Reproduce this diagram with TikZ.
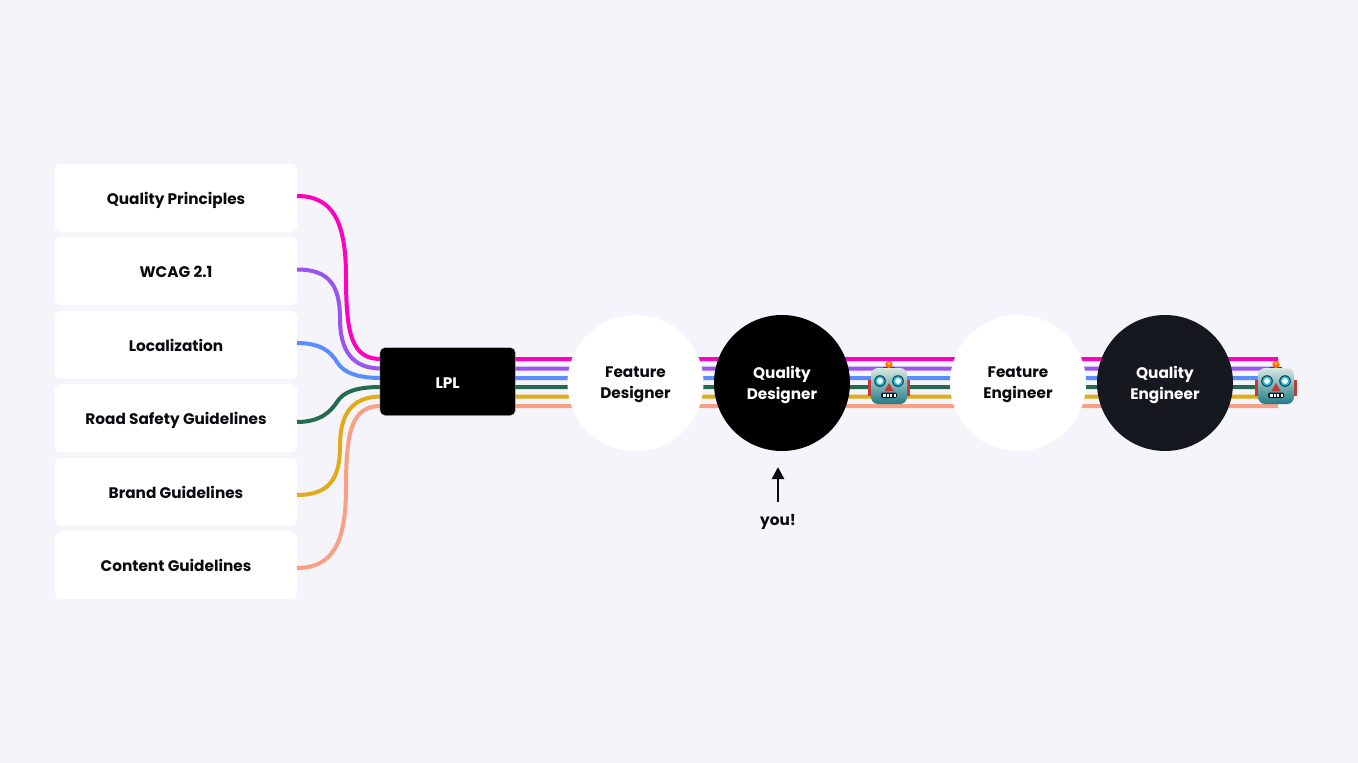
\documentclass[tikz,border=0pt]{standalone}
\usepackage{fontspec}
\setmainfont{Poppins}
\definecolor{bgc}{HTML}{F4F4FA}
\definecolor{cMag}{HTML}{FF00BF}
\definecolor{cPur}{HTML}{9B55EE}
\definecolor{cBlu}{HTML}{5A8CFF}
\definecolor{cGrn}{HTML}{256B50}
\definecolor{cYel}{HTML}{E0AC1A}
\definecolor{cSal}{HTML}{F8A084}
\definecolor{cInk}{HTML}{16181F}
\definecolor{txt}{HTML}{0B0B0F}
\definecolor{rTop}{HTML}{D8E8E2}
\definecolor{rBot}{HTML}{1F7C88}
\definecolor{rRed}{HTML}{C23A33}
\definecolor{rCyan}{HTML}{1CC4E8}
\usetikzlibrary{arrows.meta}
\tikzset{
  x=1pt,y=-1pt,
  srcbox/.style={fill=white,rounded corners=6pt,minimum width=242pt,minimum height=68pt,inner sep=0pt},
  person/.style={circle,minimum size=136pt,inner sep=0pt},
  plabel/.style={yshift=-2pt,inner sep=0pt,align=center,font=\fontsize{15.3}{21}\selectfont\bfseries},
  slabel/.style={inner sep=0pt,yshift=-2.75pt,text height=11pt,text depth=3.5pt,font=\fontsize{15.3}{21}\selectfont\bfseries,text=txt},
  wire/.style={line width=4pt},
  pics/robot/.style={code={
    \fill[rRed] (-21,-5) rectangle (-17,11);
    \fill[rRed] (17,-5) rectangle (21,11);
    \fill[cInk!85] (-6,-18) rectangle (6,-15);
    \fill[orange!85!red] (0,-20.5) circle (3.6);
    \fill[yellow!70!orange] (0,-21.5) circle (1.6);
    \shade[top color=rTop,bottom color=rBot,rounded corners=7pt] (-18,-17) rectangle (18,19);
    \foreach \s in {-1,1}{
      \fill[cInk!70!rBot] (\s*9,-4) circle (5.8);
      \fill[rCyan] (\s*9,-4) circle (4.8);
      \fill[white] (\s*9,-4) circle (2.9);
    }
    \fill[rRed] (0,-2)--(-4.5,6)--(4.5,6)--cycle;
    \fill[cInk,rounded corners=2pt] (-8,7.5) rectangle (8,13);
    \foreach \t in {-5.6,-2.2,1.2,4.6}{\fill[white] (\t,8.6) rectangle ++(2.2,3.2);}
  }}
}
\begin{document}
\begin{tikzpicture}
\useasboundingbox (0,0) rectangle (1358,763);
\fill[bgc] (0,0) rectangle (1358,763);
% sources
\node[srcbox,label={[slabel]center:Quality Principles}] (b1) at (176,198) {};
\node[srcbox,label={[slabel]center:WCAG 2.1}] (b2) at (176,271) {};
\node[srcbox,label={[slabel]center:Localization}] (b3) at (176,345) {};
\node[srcbox,label={[slabel]center:Road Safety Guidelines}] (b4) at (176,418) {};
\node[srcbox,label={[slabel]center:Brand Guidelines}] (b5) at (176,491.5) {};
\node[srcbox,label={[slabel]center:Content Guidelines}] (b6) at (176,565) {};
% anchors
\coordinate (s1) at (297,196); \coordinate (s2) at (297,269.5); \coordinate (s3) at (297,343);
\coordinate (s4) at (297,422); \coordinate (s5) at (297,495); \coordinate (s6) at (297,568);
\coordinate (m1) at (346,277); \coordinate (m2) at (340,319); \coordinate (m3) at (337,362);
\coordinate (m4) at (337,402); \coordinate (m5) at (340,446); \coordinate (m6) at (346,488);
\coordinate (i1) at (381,359); \coordinate (i2) at (381,368.5); \coordinate (i3) at (381,378);
\coordinate (i4) at (381,387); \coordinate (i5) at (381,396.5); \coordinate (i6) at (381,406);
\coordinate (e1) at (1278,359); \coordinate (e2) at (1278,368.5); \coordinate (e3) at (1278,378);
\coordinate (e4) at (1278,387); \coordinate (e5) at (1278,396.5); \coordinate (e6) at (1278,406);
% wires
\draw[wire,cMag] (s1) .. controls ++(36,0) and (346,222) .. (m1) .. controls (346,335) and (352,359) .. (i1) -- (e1);
\draw[wire,cPur] (s2) .. controls ++(32,0) and (340,285) .. (m2) .. controls (340,350) and (352,368.5) .. (i2) -- (e2);
\draw[wire,cBlu] (s3) .. controls ++(24,0) and (331,352) .. (m3) .. controls (343,372) and (356,378) .. (i3) -- (e3);
\draw[wire,cGrn] (s4) .. controls ++(24,0) and (331,411) .. (m4) .. controls (343,392) and (356,387) .. (i4) -- (e4);
\draw[wire,cYel] (s5) .. controls ++(32,0) and (340,479) .. (m5) .. controls (340,414) and (352,396.5) .. (i5) -- (e5);
\draw[wire,cSal] (s6) .. controls ++(36,0) and (346,542) .. (m6) .. controls (346,430) and (352,406) .. (i6) -- (e6);
% LPL and people
\node[fill=black,draw=white!85!black,line width=.4pt,rounded corners=5pt,minimum width=135.5pt,minimum height=68pt,inner sep=0pt,label={[plabel,text=white]center:LPL}] (lpl) at (447.7,381.5) {};
\node[person,fill=white,label={[plabel,text=txt]center:Feature\\Designer}] (fd) at (635.5,383) {};
\node[person,fill=black,label={[plabel,text=white]center:Quality\\Designer}] (qd) at (782,383) {};
\node[person,fill=white,label={[plabel,text=txt]center:Feature\\Engineer}] (fe) at (1018,383) {};
\node[person,fill=cInk,label={[plabel,text=white]center:Quality\\Engineer}] (qe) at (1165,383) {};
\pic at (889,385) {robot};
\pic at (1276,385) {robot};
% you
\node[font=\fontsize{15.3}{19}\selectfont\bfseries,text=txt,inner sep=0pt] (you) at (778,522) {you!};
\coordinate (tip) at (778,467);
\draw[line width=2.4pt,txt,-{Triangle[length=12pt,width=12pt]}] (778,502) -- (tip);
\end{tikzpicture}
\end{document}
